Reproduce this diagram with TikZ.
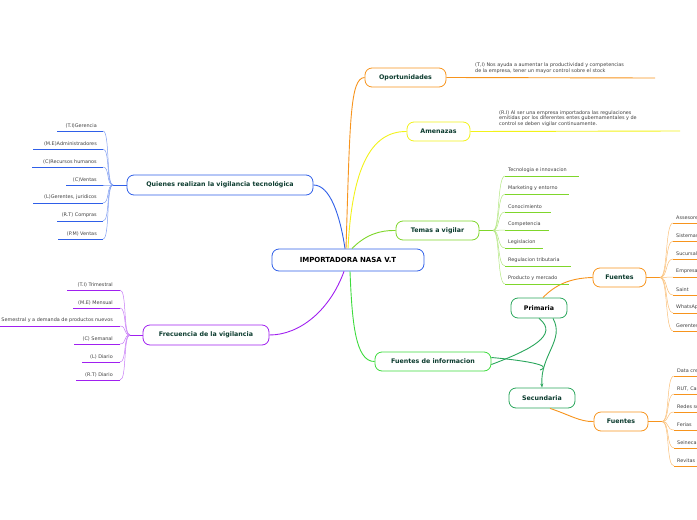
\documentclass[tikz,border=0pt]{standalone}
\usepackage{fontspec}
\setmainfont{DejaVu Sans}
\usetikzlibrary{arrows.meta}
\definecolor{cB}{HTML}{2F5FE8}
\definecolor{cO}{HTML}{F7941D}
\definecolor{cY}{HTML}{F2F21A}
\definecolor{cG}{HTML}{7FD62B}
\definecolor{cF}{HTML}{3DDB3D}
\definecolor{cD}{HTML}{2AA65C}
\definecolor{cP}{HTML}{A020F0}
\definecolor{tx}{HTML}{0B3B2E}
\tikzset{x=1pt,y=-1pt,
 main/.style={draw=#1,line width=0.8pt,rounded corners=7pt,fill=white,font=\bfseries\fontsize{6.3}{7}\selectfont,text=tx,inner xsep=10pt,inner ysep=4pt},
 leaf/.style={font=\fontsize{4.9}{5.8}\selectfont,text=black!75,inner sep=1pt},
 br/.style={draw=#1,line width=0.9pt},
 tw/.style={draw=#1!60,line width=0.5pt}}
\begin{document}
\begin{tikzpicture}
\useasboundingbox (0,0) rectangle (697,520);
\clip (0,0) rectangle (697,520);
\node[main=cB,font=\bfseries\fontsize{7}{8}\selectfont,text=black,minimum width=152pt,minimum height=22pt] (c) at (348,260) {IMPORTADORA NASA V.T};
\node[main=cO,minimum width=81pt,minimum height=19pt] (op) at (405.5,77.5) {Oportunidades};
\node[main=cY,minimum width=63pt,minimum height=19pt] (am) at (438.5,131.5) {Amenazas};
\node[main=cG,minimum width=83pt,minimum height=19pt] (tv) at (437.5,230.5) {Temas a vigilar};
\node[main=cF,minimum width=116pt,minimum height=19pt] (fi) at (433,361.5) {Fuentes de informacion};
\node[main=cB,minimum width=186pt,minimum height=20pt] (qr) at (220,185) {Quienes realizan la vigilancia tecnológica};
\node[main=cP,minimum width=126pt,minimum height=20pt] (fv) at (206,335) {Frecuencia de la vigilancia};
\node[main=cD,text=black,minimum width=56pt,minimum height=20pt] (pr) at (539,308) {Primaria};
\node[main=cD,minimum width=66pt,minimum height=20pt] (se) at (542,398) {Secundaria};
\node[main=cO,minimum width=53pt,minimum height=19pt] (f1) at (619.5,277.5) {Fuentes};
\node[main=cO,minimum width=54pt,minimum height=19pt] (f2) at (621,421.5) {Fuentes};
\draw[br=cO] (c.north) ++(-2,0) .. controls (350,120) and (350,78) .. (op.west);
\draw[br=cY] (c.north) ++(0,0) .. controls (352,170) and (370,131) .. (am.west);
\draw[br=cG] (c.north) ++(4,0) .. controls (365,235) and (380,230) .. (tv.west);
\draw[br=cF] (c.south) ++(2,0) .. controls (352,320) and (355,362) .. (fi.west);
\draw[br=cB] (c.north) ++(-3,0) .. controls (340,215) and (330,185) .. (qr.east);
\draw[br=cP] (c.south) ++(-4,0) .. controls (330,310) and (300,335) .. (fv.east);
\draw[br=cD] (fi.east) ++(0,3) .. controls (530,350) and (560,335) .. (pr.south);
\draw[br=cD] (fi.east) ++(0,-4) .. controls (520,360) and (555,365) .. (540,370);
\draw[br=cD,-{Stealth[length=4pt]}] (pr.south) ++(14,0) .. controls (565,340) and (540,355) .. (se.north);
\draw[br=cO] (pr.north) ++(4,0) .. controls (555,285) and (570,278) .. (f1.west);
\draw[br=cO] (se.south) ++(8,0) .. controls (570,415) and (580,422) .. (f2.west);
\coordinate (opE) at (655,78);
\draw[br=cO] (op.east) -- (opE);
\node[leaf,anchor=south west,align=left] (opt) at (474,75) {(T,I) Nos ayuda a aumentar la productividad y competencias\\de la empresa, tener un mayor control sobre el stock};
\coordinate (amE) at (680,131);
\draw[br=cY] (am.east) -- (amE);
\node[leaf,anchor=south west,align=left] (amt) at (498,128) {(R.I) Al ser una empresa importadora las regulaciones\\emitidas por los diferentes  entes gubernamentales y de\\control se deben vigilar continuamente.};
\coordinate (tvJ) at (493,230.5);
\draw[br=cG] (tv.east) -- (tvJ);
\foreach \y/\e/\t [count=\i] in {176/579/Tecnologia e innovacion,194/569/Marketing y entorno,212/551/Conocimiento,230/549/Competencia,248/543/Legislacion,266/571/Regulacion tributaria,284/569/Producto y mercado}{
 \coordinate (ta\i) at (505,\y); \coordinate (tb\i) at (\e,\y);
 \draw[tw=cG] (tvJ) .. controls (500,230.5) and (497,\y) .. (ta\i);
 \draw[br=cG] (ta\i) -- (tb\i);
 \node[leaf,anchor=south west] (tt\i) at (507,\y-2) {\t};}
\coordinate (f1J) at (660,277.5);
\draw[br=cO] (f1.east) -- (f1J);
\foreach \y/\t [count=\i] in {223/Assesores,241/Sistemas,259/Sucursales,277/Empresas,295/Saint,313/WhatsApp,331/Gerentes}{
 \coordinate (fa\i) at (673,\y); \coordinate (fb\i) at (705,\y);
 \draw[tw=cO] (f1J) .. controls (668,277.5) and (665,\y) .. (fa\i);
 \draw[br=cO] (fa\i) -- (fb\i);
 \node[leaf,anchor=south west] (ft\i) at (675,\y-2) {\t};}
\coordinate (f2J) at (662,421.5);
\draw[br=cO] (f2.east) -- (f2J);
\foreach \y/\t [count=\i] in {376/Data credito,394/{RUT, Camara}, 412/Redes sociales,430/Ferias,448/Seineca,466/Revitas}{
 \coordinate (ga\i) at (674,\y); \coordinate (gb\i) at (705,\y);
 \draw[tw=cO] (f2J) .. controls (670,421.5) and (666,\y) .. (ga\i);
 \draw[br=cO] (ga\i) -- (gb\i);
 \node[leaf,anchor=south west] (gt\i) at (676,\y-2) {\t};}
\coordinate (qJ) at (113,185);
\draw[br=cB] (qr.west) -- (qJ);
\foreach \y/\s/\t [count=\i] in {131/57/(T.I)Gerencia,149/33/(M.E)Administradores,167/32/(C)Recursos humanos,185/66/(C)Ventas,203/33/{(L)Gerentes, juridicos},221/57/(R.T) Compras,239/58/(P.M) Ventas}{
 \coordinate (qa\i) at (103,\y); \coordinate (qb\i) at (\s,\y);
 \draw[tw=cB] (qJ) .. controls (106,185) and (110,\y) .. (qa\i);
 \draw[br=cB] (qa\i) -- (qb\i);
 \node[leaf,anchor=south east] (qt\i) at (98,\y-2) {\t};}
\coordinate (fJ) at (130,335);
\draw[br=cP] (fv.west) -- (fJ);
\foreach \y/\s/\t [count=\i] in {290/67/(T.I) Trimestral,308/73/(M.E) Mensual,326/-10/(R.I) Semestral y a demanda de productos nuevos,344/74/(C) Semanal,362/82/(L) Diario,380/76/(R.T) Diario}{
 \coordinate (pa\i) at (120,\y); \coordinate (pb\i) at (\s,\y);
 \draw[tw=cP] (fJ) .. controls (123,335) and (127,\y) .. (pa\i);
 \draw[br=cP] (pa\i) -- (pb\i);
 \node[leaf,anchor=south east] (pt\i) at (114,\y-2) {\t};}
\end{tikzpicture}
\end{document}
